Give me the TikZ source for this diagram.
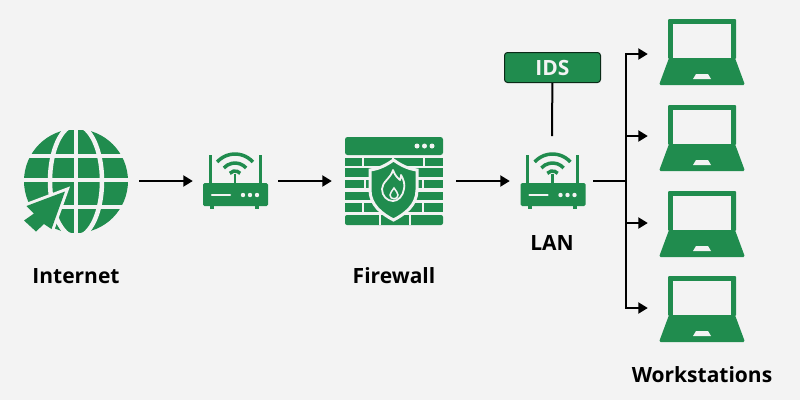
\documentclass[tikz,border=0pt]{standalone}
\usepackage{fontspec}
\setmainfont{Open Sans}
\usetikzlibrary{calc,arrows.meta,positioning}
\definecolor{mygreen}{RGB}{32,140,78}
\definecolor{mypaper}{RGB}{243,243,243}

\begin{document}
\begin{tikzpicture}[
  x=1pt,
  y=-1pt,
  iconbox/.style={
    minimum width=#1,
    minimum height=60pt,
    inner sep=0pt
    },
  mylabel/.style={
    font=\fontsize{21}{24}\selectfont\bfseries,
    text=black,
    inner sep=0pt
    },
  mylink/.style={
    line width=2pt,
    draw=black
    },
  myarrow/.style={
    mylink,
    -{Triangle[length=9.5pt,width=11pt]}
    },
  routericon/.pic={
    \fill[mygreen,rounded corners=1.5pt] (-32,1) rectangle (33,24);
    \fill[mygreen] (-25,22) rectangle (-21,27);
    \fill[mygreen] (20,22) rectangle (24,27);
    \draw[mygreen,line width=3pt] (-25,-27) -- (-25,2);
    \draw[mygreen,line width=3pt] (25,-27) -- (25,2);
    \draw[mygreen,line width=2.5pt] (0,-8) -- (0,2);
    \foreach \Rad in {7,15,24}
      \draw[mygreen,line width=3.5pt] ([shift={(42:\Rad pt)}]0,-4) arc[start angle=42,end angle=138,radius=\Rad pt];
    \draw[mypaper,line width=2.5pt,line cap=round] (-23,13) -- (-5,13);
    \foreach \Dot in {8,15,22}
      \fill[mypaper] (\Dot,13) circle[radius=2.2pt];
  },
  laptopicon/.pic={
    \fill[mygreen,rounded corners=1pt] (-34,0) rectangle (34,40);
    \fill[mypaper] (-29,5) rectangle (29,39);
    \fill[mygreen,rounded corners=1.5pt] (-33,39) -- (-43,66) -- (43,66) -- (33,39) -- cycle;
    \fill[mypaper] (-6,55) -- (6,55) -- (9,60) -- (-9,60) -- cycle;
  }
]

\fill[mypaper] (0,0) rectangle (800,400);

% internet
\node[iconbox=126pt] (internet) at (76,181) {};
\begin{scope}
  \clip (20,130) rectangle (132,232);
  \fill[mygreen] (internet.center) circle[radius=52pt];
  \draw[mypaper,line width=4.5pt] (internet.center) ellipse[x radius=26pt,y radius=56pt];
  \draw[mypaper,line width=4.5pt] (76,125) -- (76,240);
  \foreach \Lat in {156,180,207}
    \draw[mypaper,line width=4.5pt] (20,\Lat) -- (132,\Lat);
\end{scope}
\draw[mypaper,line width=6pt,line join=miter] (65,191.5) -- (26.5,206) -- (34,213.5) -- (24,220.5) -- (36,231.5) -- (44,224) -- (51.5,229) -- cycle;
\fill[mygreen] (65,191.5) -- (26.5,206) -- (34,213.5) -- (24,220.5) -- (36,231.5) -- (44,224) -- (51.5,229) -- cycle;

% first router
\node[iconbox=85pt] (router1) at (235.5,181) {};
\pic at (235,182) {routericon};

% firewall
\node[iconbox=124pt] (firewall) at (394,181) {};
\fill[mygreen,rounded corners=2.5pt] (345,137) rectangle (443,155);
\foreach \Dot in {417,424.5,432}
  \fill[mypaper] (\Dot,146) circle[radius=2.5pt];
\foreach \Top/\Bot in {158/166,168/177,180/188,192/200,203/212}
  \fill[mygreen] (345,\Top) rectangle (443,\Bot);
\fill[mygreen,rounded corners=2pt] (345,215) rectangle (443,225);
\foreach \Xa/\Top/\Bot in {363/158/166,393/158/166,424/158/166,365/180/188,423/180/188,363/203/212,423/203/212,380/215/225,410/215/225}
  \draw[mypaper,line width=2pt] (\Xa,\Top) -- (\Xa,\Bot);
\fill[mygreen,draw=mypaper,line width=3pt] (393.5,160) .. controls (385,166) and (378,169) .. (370,170) -- (370,190) .. controls (370,205) and (382,214) .. (393.5,220) .. controls (405,214) and (417,205) .. (417,190) -- (417,170) .. controls (409,169) and (402,166) .. (393.5,160) -- cycle;
\draw[mypaper,line width=1.8pt,line join=round] (393,170) .. controls (395,176) and (398,178) .. (400,180) .. controls (401,177) and (401,176) .. (401,175) .. controls (404,180) and (405,185) .. (404,189) .. controls (403,196) and (398,201) .. (393,201) .. controls (387,201) and (382,196) .. (382,189) .. controls (382,182) and (391,178) .. (393,170) -- cycle;
\draw[mypaper,line width=1.5pt] (394,188) .. controls (392,191) and (390,193) .. (390,195) .. controls (390,200) and (398,200) .. (398,195) .. controls (398,193) and (396,191) .. (394,188) -- cycle;

% lan router
\node[iconbox=83pt] (lanrouter) at (551.5,181) {};
\pic at (552.5,182) {routericon};
\node[draw=black!70!mygreen,fill=mygreen,rounded corners=3pt,line width=1pt,minimum width=96pt,minimum height=30pt,inner sep=0pt,text=mypaper,font=\fontsize{21}{24}\selectfont\bfseries] (ids) at (552.5,67.5) {IDS};
\coordinate (idsend) at (552,136);
\coordinate (hub) at (625.5,181);

% workstations
\foreach \Arrow/\Top [count=\Valori from 1] in {54/19,136/105,223/191,308/276} {
  \node[iconbox=108pt] (laptop\Valori) at (702,\Arrow) {};
  \pic at (702,\Top) {laptopicon};
  \draw[myarrow] (hub) |- (laptop\Valori);
}

% labels
\node[mylabel] (internetlabel) at (76,276) {Internet};
\node[mylabel] (firewalllabel) at (394,276) {Firewall};
\node[mylabel] (lanlabel) at (552,243) {LAN};
\node[mylabel] (workstationslabel) at (702,375) {Workstations};

% connectors
\draw[myarrow] (internet) -- (router1);
\draw[myarrow] (router1) -- (firewall);
\draw[myarrow] (firewall) -- (lanrouter);
\draw[mylink] (lanrouter) -- (hub);
\draw[mylink] (ids) -- (idsend);

\end{tikzpicture}
\end{document}
